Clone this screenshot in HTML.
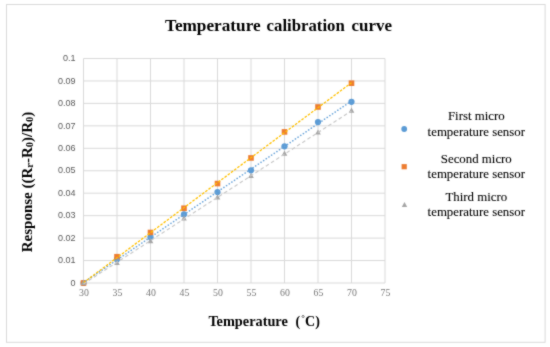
<!DOCTYPE html><html><head><meta charset="utf-8"><style>html,body{margin:0;padding:0;background:#fff;}svg{display:block}</style></head><body>
<svg width="550" height="347" viewBox="0 0 550 347">
<defs><filter id="bl" color-interpolation-filters="sRGB" filterUnits="userSpaceOnUse" x="0" y="0" width="550" height="347"><feConvolveMatrix order="3" kernelMatrix="1 2 1 2 16 2 1 2 1" divisor="28" edgeMode="duplicate"/></filter></defs><g filter="url(#bl)">
<rect x="0" y="0" width="550" height="347" fill="#fff"/>
<rect x="6.5" y="4.5" width="538.6" height="337.8" fill="#fff" stroke="#d9d9d9" stroke-width="1"/>
<path d="M83.50 58.50V283.00 M117.00 58.50V283.00 M150.50 58.50V283.00 M184.00 58.50V283.00 M217.50 58.50V283.00 M251.00 58.50V283.00 M284.50 58.50V283.00 M318.00 58.50V283.00 M351.50 58.50V283.00 M385.00 58.50V283.00 M83.50 283.00H385.00 M83.50 260.55H385.00 M83.50 238.10H385.00 M83.50 215.65H385.00 M83.50 193.20H385.00 M83.50 170.75H385.00 M83.50 148.30H385.00 M83.50 125.85H385.00 M83.50 103.40H385.00 M83.50 80.95H385.00 M83.50 58.50H385.00" stroke="#d9d9d9" stroke-width="1" fill="none"/>
<text transform="translate(75.5,285.70) scale(0.93,1)" text-anchor="end" font-family="'Liberation Sans', sans-serif" font-size="9.7" fill="#595959">0</text>
<text transform="translate(75.5,263.25) scale(0.93,1)" text-anchor="end" font-family="'Liberation Sans', sans-serif" font-size="9.7" fill="#595959">0.01</text>
<text transform="translate(75.5,240.80) scale(0.93,1)" text-anchor="end" font-family="'Liberation Sans', sans-serif" font-size="9.7" fill="#595959">0.02</text>
<text transform="translate(75.5,218.35) scale(0.93,1)" text-anchor="end" font-family="'Liberation Sans', sans-serif" font-size="9.7" fill="#595959">0.03</text>
<text transform="translate(75.5,195.90) scale(0.93,1)" text-anchor="end" font-family="'Liberation Sans', sans-serif" font-size="9.7" fill="#595959">0.04</text>
<text transform="translate(75.5,173.45) scale(0.93,1)" text-anchor="end" font-family="'Liberation Sans', sans-serif" font-size="9.7" fill="#595959">0.05</text>
<text transform="translate(75.5,151.00) scale(0.93,1)" text-anchor="end" font-family="'Liberation Sans', sans-serif" font-size="9.7" fill="#595959">0.06</text>
<text transform="translate(75.5,128.55) scale(0.93,1)" text-anchor="end" font-family="'Liberation Sans', sans-serif" font-size="9.7" fill="#595959">0.07</text>
<text transform="translate(75.5,106.10) scale(0.93,1)" text-anchor="end" font-family="'Liberation Sans', sans-serif" font-size="9.7" fill="#595959">0.08</text>
<text transform="translate(75.5,83.65) scale(0.93,1)" text-anchor="end" font-family="'Liberation Sans', sans-serif" font-size="9.7" fill="#595959">0.09</text>
<text transform="translate(75.5,61.20) scale(0.93,1)" text-anchor="end" font-family="'Liberation Sans', sans-serif" font-size="9.7" fill="#595959">0.1</text>
<text x="83.90" y="296" text-anchor="middle" font-family="'Liberation Serif', serif" font-size="9.8" fill="#767676">30</text>
<text x="117.40" y="296" text-anchor="middle" font-family="'Liberation Serif', serif" font-size="9.8" fill="#767676">35</text>
<text x="150.90" y="296" text-anchor="middle" font-family="'Liberation Serif', serif" font-size="9.8" fill="#767676">40</text>
<text x="184.40" y="296" text-anchor="middle" font-family="'Liberation Serif', serif" font-size="9.8" fill="#767676">45</text>
<text x="217.90" y="296" text-anchor="middle" font-family="'Liberation Serif', serif" font-size="9.8" fill="#767676">50</text>
<text x="251.40" y="296" text-anchor="middle" font-family="'Liberation Serif', serif" font-size="9.8" fill="#767676">55</text>
<text x="284.90" y="296" text-anchor="middle" font-family="'Liberation Serif', serif" font-size="9.8" fill="#767676">60</text>
<text x="318.40" y="296" text-anchor="middle" font-family="'Liberation Serif', serif" font-size="9.8" fill="#767676">65</text>
<text x="351.90" y="296" text-anchor="middle" font-family="'Liberation Serif', serif" font-size="9.8" fill="#767676">70</text>
<text x="385.40" y="296" text-anchor="middle" font-family="'Liberation Serif', serif" font-size="9.8" fill="#767676">75</text>
<circle cx="83.50" cy="283.00" r="3.1" fill="#5b9bd5"/>
<circle cx="117.00" cy="259.20" r="3.1" fill="#5b9bd5"/>
<circle cx="150.50" cy="237.20" r="3.1" fill="#5b9bd5"/>
<circle cx="184.00" cy="214.30" r="3.1" fill="#5b9bd5"/>
<circle cx="217.50" cy="192.08" r="3.1" fill="#5b9bd5"/>
<circle cx="251.00" cy="170.30" r="3.1" fill="#5b9bd5"/>
<circle cx="284.50" cy="146.28" r="3.1" fill="#5b9bd5"/>
<circle cx="318.00" cy="122.03" r="3.1" fill="#5b9bd5"/>
<circle cx="351.50" cy="101.83" r="3.1" fill="#5b9bd5"/>
<rect x="80.70" y="280.20" width="5.6" height="5.6" fill="#ed7d31"/>
<rect x="114.20" y="253.93" width="5.6" height="5.6" fill="#ed7d31"/>
<rect x="147.70" y="229.69" width="5.6" height="5.6" fill="#ed7d31"/>
<rect x="181.20" y="205.44" width="5.6" height="5.6" fill="#ed7d31"/>
<rect x="214.70" y="180.75" width="5.6" height="5.6" fill="#ed7d31"/>
<rect x="248.20" y="155.15" width="5.6" height="5.6" fill="#ed7d31"/>
<rect x="281.70" y="129.11" width="5.6" height="5.6" fill="#ed7d31"/>
<rect x="315.20" y="104.19" width="5.6" height="5.6" fill="#ed7d31"/>
<rect x="348.70" y="80.40" width="5.6" height="5.6" fill="#ed7d31"/>
<path d="M83.50 279.81L86.30 284.96L80.70 284.96Z" fill="#a5a5a5"/>
<path d="M117.00 259.83L119.80 264.98L114.20 264.98Z" fill="#a5a5a5"/>
<path d="M150.50 238.05L153.30 243.20L147.70 243.20Z" fill="#a5a5a5"/>
<path d="M184.00 215.37L186.80 220.53L181.20 220.53Z" fill="#a5a5a5"/>
<path d="M217.50 194.27L220.30 199.42L214.70 199.42Z" fill="#a5a5a5"/>
<path d="M251.00 172.94L253.80 178.10L248.20 178.10Z" fill="#a5a5a5"/>
<path d="M284.50 150.49L287.30 155.65L281.70 155.65Z" fill="#a5a5a5"/>
<path d="M318.00 129.39L320.80 134.54L315.20 134.54Z" fill="#a5a5a5"/>
<path d="M351.50 107.61L354.30 112.77L348.70 112.77Z" fill="#a5a5a5"/>
<line x1="83.50" y1="282.61" x2="351.50" y2="101.00" stroke="#68a3d9" stroke-width="1.6" stroke-dasharray="0.1 3.1" stroke-linecap="round"/>
<line x1="83.50" y1="282.67" x2="351.50" y2="82.68" stroke="#ffc000" stroke-width="1.3" stroke-dasharray="2.6 1.4" stroke-linecap="butt"/>
<line x1="83.50" y1="283.90" x2="351.50" y2="110.88" stroke="#c8c8c8" stroke-width="1.2" stroke-dasharray="3.6 2.6" stroke-linecap="butt"/>
<text x="165" y="30.8" textLength="95.6" lengthAdjust="spacingAndGlyphs" font-family="'Liberation Serif', serif" font-weight="bold" font-size="17.6" fill="#000">Temperature</text>
<text x="266.6" y="30.8" textLength="78.2" lengthAdjust="spacingAndGlyphs" font-family="'Liberation Serif', serif" font-weight="bold" font-size="17.6" fill="#000">calibration</text>
<text x="351.5" y="30.8" textLength="40.4" lengthAdjust="spacingAndGlyphs" font-family="'Liberation Serif', serif" font-weight="bold" font-size="17.6" fill="#000">curve</text>
<text x="208.4" y="326.1" textLength="79.4" lengthAdjust="spacingAndGlyphs" font-family="'Liberation Serif', serif" font-weight="bold" font-size="14" fill="#000">Temperature</text>
<text x="295.5" y="326.1" font-family="'Liberation Serif', serif" font-weight="bold" font-size="14" fill="#000">(</text>
<text x="301.3" y="321.0" font-family="'Liberation Serif', serif" font-weight="bold" font-size="9" fill="#000">°</text>
<text x="305.1" y="326.1" font-family="'Liberation Serif', serif" font-weight="bold" font-size="14" fill="#000">C)</text>
<text transform="translate(32.1,252.3) rotate(-90) scale(1.043,1)" x="0" y="0" font-family="'Liberation Serif', serif" font-weight="bold" font-size="14.4" fill="#000">Response ((R<tspan font-size="10" dy="1.3">r</tspan><tspan dy="-1.3">-R</tspan><tspan font-size="10" dy="1.3">0</tspan><tspan dy="-1.3">)/R</tspan><tspan font-size="10" dy="1.3">0</tspan><tspan dy="-1.3">)</tspan></text>
<circle cx="404.20" cy="129.00" r="2.9" fill="#5b9bd5"/>
<text x="476.3" y="120" text-anchor="middle" font-family="'Liberation Serif', serif" font-size="12.85" fill="#000" stroke="#000" stroke-width="0.08">First micro</text>
<text x="476.3" y="135.5" text-anchor="middle" font-family="'Liberation Serif', serif" font-size="12.85" fill="#000" stroke="#000" stroke-width="0.08">temperature sensor</text>
<rect x="401.60" y="164.10" width="5.2" height="5.2" fill="#ed7d31"/>
<text x="476.3" y="162.7" text-anchor="middle" font-family="'Liberation Serif', serif" font-size="12.85" fill="#000" stroke="#000" stroke-width="0.08">Second micro</text>
<text x="476.3" y="178.2" text-anchor="middle" font-family="'Liberation Serif', serif" font-size="12.85" fill="#000" stroke="#000" stroke-width="0.08">temperature sensor</text>
<path d="M404.50 201.92L407.20 206.89L401.80 206.89Z" fill="#a5a5a5"/>
<text x="476.3" y="200.7" text-anchor="middle" font-family="'Liberation Serif', serif" font-size="12.85" fill="#000" stroke="#000" stroke-width="0.08">Third micro</text>
<text x="476.3" y="216.3" text-anchor="middle" font-family="'Liberation Serif', serif" font-size="12.85" fill="#000" stroke="#000" stroke-width="0.08">temperature sensor</text>
</g></svg></body></html>
